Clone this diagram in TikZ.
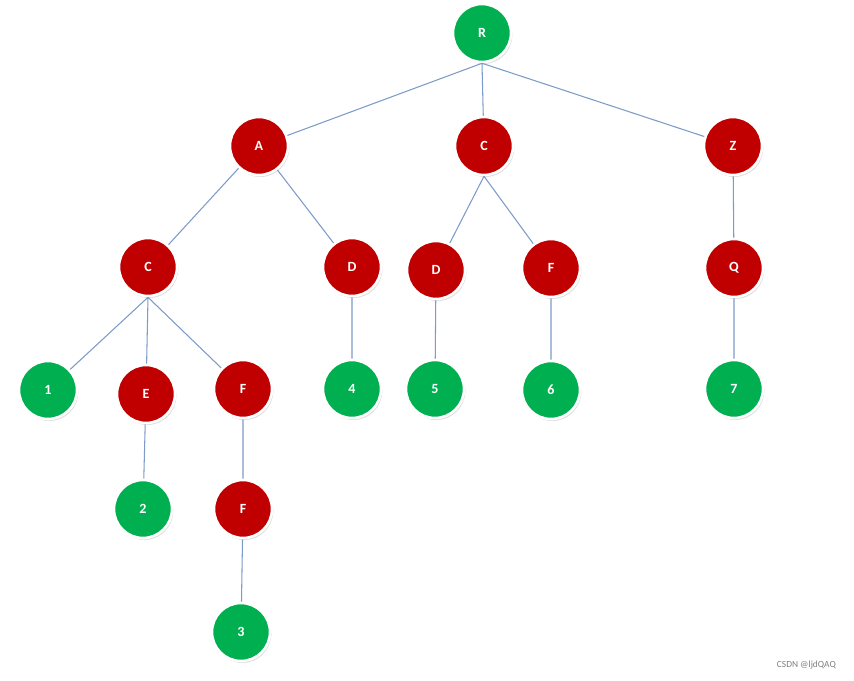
\documentclass[tikz,border=0pt]{standalone}
\usepackage{fontspec}
\setmainfont{Carlito}
\usetikzlibrary{shadows}
\definecolor{gn}{RGB}{0,176,80}
\definecolor{rd}{RGB}{192,0,0}
\definecolor{ln}{RGB}{125,155,200}
\tikzset{
 nd/.style={circle,minimum size=1.74cm,inner sep=0pt,draw=white,line width=2.2pt,
   text=white,font=\bfseries\large,drop shadow={opacity=0.25,shadow xshift=0.04cm,shadow yshift=-0.06cm}},
 gnode/.style={nd,fill=gn},
 rnode/.style={nd,fill=rd},
 ed/.style={draw=ln,line width=0.9pt}
}
\begin{document}
\begin{tikzpicture}[x=0.03cm,y=-0.03cm]
\useasboundingbox[fill=white] (0,0) rectangle (854,681);
\node[gnode] (R) at (482,33) {R};
\node[rnode] (A) at (259,146) {A};
\node[rnode] (C1) at (484,146) {C};
\node[rnode] (Z) at (733,146) {Z};
\node[rnode] (C2) at (148,267) {C};
\node[rnode] (D1) at (352,267) {D};
\node[rnode] (D2) at (436,270) {D};
\node[rnode] (F1) at (551,268) {F};
\node[rnode] (Q) at (734,268) {Q};
\node[gnode] (n1) at (48,390) {1};
\node[rnode] (E) at (146,394) {E};
\node[rnode] (F2) at (243,389) {F};
\node[gnode] (n4) at (352,389) {4};
\node[gnode] (n5) at (435,389) {5};
\node[gnode] (n6) at (551,390) {6};
\node[gnode] (n7) at (734,389) {7};
\node[gnode] (n2) at (143,509) {2};
\node[rnode] (F3) at (243,509) {F};
\node[gnode] (n3) at (241,632) {3};
\path[ed] (R.south) -- (A) (R.south) -- (C1) (R.south) -- (Z);
\path[ed] (A) -- (C2) (A) -- (D1);
\path[ed] (C1.south) -- (D2) (C1.south) -- (F1);
\path[ed] (Z) -- (Q) (Q) -- (n7);
\path[ed] (C2.south) -- (n1) (C2.south) -- (E) (C2.south) -- (F2);
\path[ed] (D1) -- (n4) (D2) -- (n5) (F1) -- (n6);
\path[ed] (E) -- (n2) (F2) -- (F3) (F3) -- (n3);
\node[font=\footnotesize,text=gray,anchor=east] (wm) at (840,665) {CSDN @ljdQAQ};
\end{tikzpicture}
\end{document}
